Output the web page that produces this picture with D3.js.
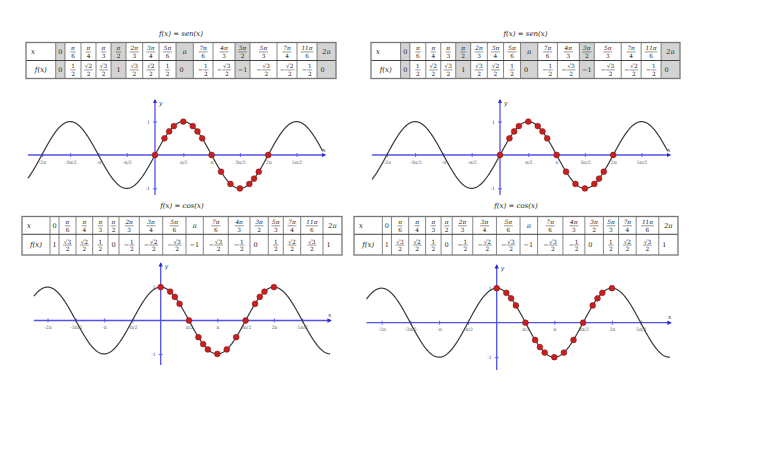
<!DOCTYPE html>
<html lang="es">
<head>
  <meta charset="UTF-8">
  <title>Funciones seno y coseno</title>
  <style>
    body { margin: 0; background: #fff; }
    svg { display: block; }
    .title { font-family: "DejaVu Serif", serif; font-style: italic; font-size: 7px; fill: #222; }
    .cell { font-family: "DejaVu Serif", serif; font-size: 6.5px; fill: #222; }
    .frac { font-family: "DejaVu Serif", serif; font-size: 5.8px; fill: #222; }
    .hdr { font-family: "DejaVu Serif", serif; font-style: italic; font-size: 7px; fill: #222; }
    .tick text { font-family: "DejaVu Serif", serif; font-size: 4.6px; fill: #555; }
    .axis-lbl { font-family: "DejaVu Serif", serif; font-style: italic; font-size: 6px; fill: #333; }
  </style>
  <script src="https://d3js.org/d3.v7.min.js"></script>
</head>
<body>
<svg id="chart" width="768" height="466"></svg>
<script>
  // -----------------------------
  // Data
  // -----------------------------
  const angleLabels = ["0", "π/6", "π/4", "π/3", "π/2", "2π/3", "3π/4", "5π/6", "π",
                       "7π/6", "4π/3", "3π/2", "5π/3", "7π/4", "11π/6", "2π"];
  const anglePi = [0, 1/6, 1/4, 1/3, 1/2, 2/3, 3/4, 5/6, 1, 7/6, 4/3, 3/2, 5/3, 7/4, 11/6, 2];

  const sinLabels = ["0", "1/2", "√2/2", "√3/2", "1", "√3/2", "√2/2", "1/2", "0",
                     "-1/2", "-√3/2", "-1", "-√3/2", "-√2/2", "-1/2", "0"];
  const sinValues = [0, 0.5, 0.7071, 0.866, 1, 0.866, 0.7071, 0.5, 0,
                     -0.5, -0.866, -1, -0.866, -0.7071, -0.5, 0];

  const cosLabels = ["1", "√3/2", "√2/2", "1/2", "0", "-1/2", "-√2/2", "-√3/2", "-1",
                     "-√3/2", "-1/2", "0", "1/2", "√2/2", "√3/2", "1"];
  const cosValues = [1, 0.866, 0.7071, 0.5, 0, -0.5, -0.7071, -0.866, -1,
                     -0.866, -0.5, 0, 0.5, 0.7071, 0.866, 1];

  const shadedSinCols = [0, 4, 8, 11, 15];

  const axisTickPi = [-2, -1.5, -1, -0.5, 0.5, 1, 1.5, 2, 2.5];
  const axisTickLabels = ["-2π", "-3π/2", "-π", "-π/2", "π/2", "π", "3π/2", "2π", "5π/2"];
  const yTickValues = [-1, 1];
  const yTickLabels = ["-1", "1"];

  // -----------------------------
  // Layout
  // -----------------------------
  const sinColWidths = [29.7, 9.3, 16, 15, 15, 15, 16.7, 16.3, 17, 17.3, 19.7, 22, 15, 27, 20, 20, 19];
  const cosColWidths = [28, 9, 17, 16.7, 15.3, 11, 20.3, 23.4, 23.3, 17.3, 25, 21.7, 18.3, 15, 17.4, 22.3, 19];

  const tables = [
    { title: "f(x) = sen(x)", labels: sinLabels, widths: sinColWidths, shaded: shadedSinCols,
      x: [26, 336], rows: [42.5, 60.5, 78.5], titleY: 35.5 },
    { title: "f(x) = sen(x)", labels: sinLabels, widths: sinColWidths, shaded: shadedSinCols,
      x: [371, 680], rows: [42.5, 60.5, 78.5], titleY: 35.5 },
    { title: "f(x) = cos(x)", labels: cosLabels, widths: cosColWidths, shaded: [],
      x: [22, 342], rows: [216.5, 234.3, 255], titleY: 207.5 },
    { title: "f(x) = cos(x)", labels: cosLabels, widths: cosColWidths, shaded: [],
      x: [354, 678], rows: [216.5, 234.3, 255], titleY: 207.5 }
  ];

  const plots = [
    { fn: Math.sin, values: sinValues, ox: 155, oy: 155, halfPi: 28.3, amp: 33.4,
      curve: [-7.05, 9.3], axisX: [-7.05, 9.45], axisY: [-1.2, 1.65] },
    { fn: Math.sin, values: sinValues, ox: 500, oy: 155, halfPi: 28.3, amp: 33.4,
      curve: [-7.1, 9.3], axisX: [-7.1, 9.45], axisY: [-1.2, 1.65] },
    { fn: Math.cos, values: cosValues, ox: 160.7, oy: 320.5, halfPi: 28.3, amp: 33.4,
      curve: [-7.04, 9.4], axisX: [-7.04, 9.45], axisY: [-1.33, 1.72] },
    { fn: Math.cos, values: cosValues, ox: 496.7, oy: 322.7, halfPi: 28.8, amp: 34.5,
      curve: [-7.1, 9.45], axisX: [-7.1, 9.5], axisY: [-1.37, 1.67] }
  ];

  const AXIS_BLUE = "#5252e6";

  const svg = d3.select("#chart");

  svg.append("defs").append("marker")
    .attr("id", "arrow")
    .attr("viewBox", "0 0 10 10")
    .attr("refX", 8).attr("refY", 5)
    .attr("markerWidth", 3.4).attr("markerHeight", 3.4)
    .attr("markerUnits", "strokeWidth")
    .attr("orient", "auto")
    .append("path")
    .attr("d", "M0,0 L10,5 L0,10 z")
    .attr("fill", "#2a2ad8");

  // -----------------------------
  // Tables
  // -----------------------------
  function drawLabel(g, label, x0, x1, yT, yB, isTop) {
    const neg = label.startsWith("-");
    const body = neg ? label.slice(1) : label;
    const cx = (x0 + x1) / 2, cy = (yT + yB) / 2;

    if (body.includes("/")) {
      const [num, den] = body.split("/");
      const grp = g.append("g");
      const n = grp.append("text").attr("class", "frac").attr("text-anchor", "middle")
        .style("font-style", num.includes("π") ? "italic" : "normal").text(num);
      const d = grp.append("text").attr("class", "frac").attr("text-anchor", "middle").text(den);
      const w = Math.max(n.node().getComputedTextLength(), d.node().getComputedTextLength()) + 1.5;
      const signW = neg ? 5.5 : 0;
      const start = cx - (signW + w) / 2;
      if (neg) {
        grp.append("text").attr("class", "cell").attr("x", start).attr("y", cy + 2.2).text("−");
      }
      const fc = start + signW + w / 2;
      n.attr("x", fc).attr("y", cy - 1.1);
      d.attr("x", fc).attr("y", cy + 6.2);
      grp.append("line")
        .attr("x1", fc - w / 2).attr("x2", fc + w / 2)
        .attr("y1", cy + 0.4).attr("y2", cy + 0.4)
        .attr("stroke", "#333").attr("stroke-width", 0.5);
    } else {
      const txt = (neg ? "−" : "") + body;
      const wide = (x1 - x0) >= 17 && !isTop;
      g.append("text").attr("class", "cell")
        .attr("x", wide ? x0 + 3.5 : cx)
        .attr("y", cy + 2.3)
        .attr("text-anchor", wide ? "start" : "middle")
        .style("font-style", body.includes("π") ? "italic" : "normal")
        .text(txt);
    }
  }

  tables.forEach(t => {
    const g = svg.append("g");
    const cum = [0];
    t.widths.forEach(w => cum.push(cum[cum.length - 1] + w));
    const colX = d3.scaleLinear().domain([0, cum[cum.length - 1]]).range(t.x);
    const edges = cum.map(c => colX(c));
    const [yT, yM, yB] = t.rows;

    // shaded value columns
    g.selectAll("rect.shade")
      .data(t.shaded)
      .join("rect")
      .attr("class", "shade")
      .attr("x", i => edges[i + 1])
      .attr("y", yT)
      .attr("width", i => edges[i + 2] - edges[i + 1])
      .attr("height", yB - yT)
      .attr("fill", "#d3d3d3");

    // grid
    g.selectAll("line.col")
      .data(edges.slice(1, -1))
      .join("line")
      .attr("class", "col")
      .attr("x1", d => d).attr("x2", d => d)
      .attr("y1", yT).attr("y2", yB)
      .attr("stroke", "#555").attr("stroke-width", 0.7);

    g.append("line")
      .attr("x1", t.x[0]).attr("x2", t.x[1])
      .attr("y1", yM).attr("y2", yM)
      .attr("stroke", "#444").attr("stroke-width", 1);

    g.append("rect")
      .attr("x", t.x[0]).attr("y", yT)
      .attr("width", t.x[1] - t.x[0]).attr("height", yB - yT)
      .attr("fill", "none").attr("stroke", "#777").attr("stroke-width", 1.3);

    // headers
    g.append("text").attr("class", "hdr")
      .attr("x", edges[0] + 5).attr("y", (yT + yM) / 2 + 2.4).text("x");
    g.append("text").attr("class", "hdr").attr("text-anchor", "middle")
      .attr("x", (edges[0] + edges[1]) / 2).attr("y", (yM + yB) / 2 + 2.4).text("f(x)");

    angleLabels.forEach((lab, i) => {
      drawLabel(g, lab, edges[i + 1], edges[i + 2], yT, yM, true);
      drawLabel(g, t.labels[i], edges[i + 1], edges[i + 2], yM, yB, false);
    });

    g.append("text").attr("class", "title").attr("text-anchor", "middle")
      .attr("x", (t.x[0] + t.x[1]) / 2).attr("y", t.titleY)
      .text(t.title);
  });

  // -----------------------------
  // Plots
  // -----------------------------
  plots.forEach(p => {
    const g = svg.append("g");
    const x = d3.scaleLinear().domain([0, Math.PI / 2]).range([p.ox, p.ox + p.halfPi]);
    const y = d3.scaleLinear().domain([0, 1]).range([p.oy, p.oy - p.amp]);

    // x axis line
    g.append("line")
      .attr("x1", x(p.axisX[0])).attr("x2", x(p.axisX[1]))
      .attr("y1", y(0)).attr("y2", y(0))
      .attr("stroke", AXIS_BLUE).attr("stroke-width", 1.3)
      .attr("marker-end", "url(#arrow)");

    // y axis line
    g.append("line")
      .attr("x1", x(0)).attr("x2", x(0))
      .attr("y1", y(p.axisY[0])).attr("y2", y(p.axisY[1]))
      .attr("stroke", AXIS_BLUE).attr("stroke-width", 1.3)
      .attr("marker-end", "url(#arrow)");

    // x ticks
    const xAxis = d3.axisBottom(x)
      .tickValues(axisTickPi.map(k => k * Math.PI))
      .tickFormat((d, i) => axisTickLabels[i])
      .tickSize(2)
      .tickPadding(3.5);
    const xg = g.append("g")
      .attr("transform", `translate(0,${y(0)})`)
      .call(xAxis);
    xg.select(".domain").remove();
    xg.selectAll(".tick line").attr("y1", -2).attr("stroke", AXIS_BLUE).attr("stroke-width", 0.9);
    xg.selectAll(".tick text").attr("font-family", null).attr("font-size", null);

    // y ticks
    const yAxis = d3.axisLeft(y)
      .tickValues(yTickValues)
      .tickFormat((d, i) => yTickLabels[i])
      .tickSize(2)
      .tickPadding(3);
    const yg = g.append("g").attr("transform", `translate(${x(0)},0)`).call(yAxis);
    yg.select(".domain").remove();
    yg.selectAll(".tick line").attr("x1", 2).attr("stroke", AXIS_BLUE).attr("stroke-width", 0.9);
    yg.selectAll(".tick text").attr("font-family", null).attr("font-size", null);

    g.append("text").attr("class", "axis-lbl")
      .attr("x", x(p.axisX[1]) - 3).attr("y", y(0) - 3.5).text("x");
    g.append("text").attr("class", "axis-lbl")
      .attr("x", x(0) + 4).attr("y", y(p.axisY[1]) + 5).text("y");

    // function curve
    const pts = d3.range(p.curve[0], p.curve[1], 0.02).concat([p.curve[1]])
      .map(t => [t, p.fn(t)]);
    g.append("path")
      .datum(pts)
      .attr("fill", "none")
      .attr("stroke", "#3a3a3a")
      .attr("stroke-width", 1.2)
      .attr("d", d3.line().x(d => x(d[0])).y(d => y(d[1])));

    // table points
    g.selectAll("circle")
      .data(anglePi.map((k, i) => [k * Math.PI, p.values[i]]))
      .join("circle")
      .attr("cx", d => x(d[0]))
      .attr("cy", d => y(d[1]))
      .attr("r", 2.9)
      .attr("fill", "#c8201e")
      .attr("stroke", "#7a1010")
      .attr("stroke-width", 0.5);
  });
</script>
</body>
</html>
